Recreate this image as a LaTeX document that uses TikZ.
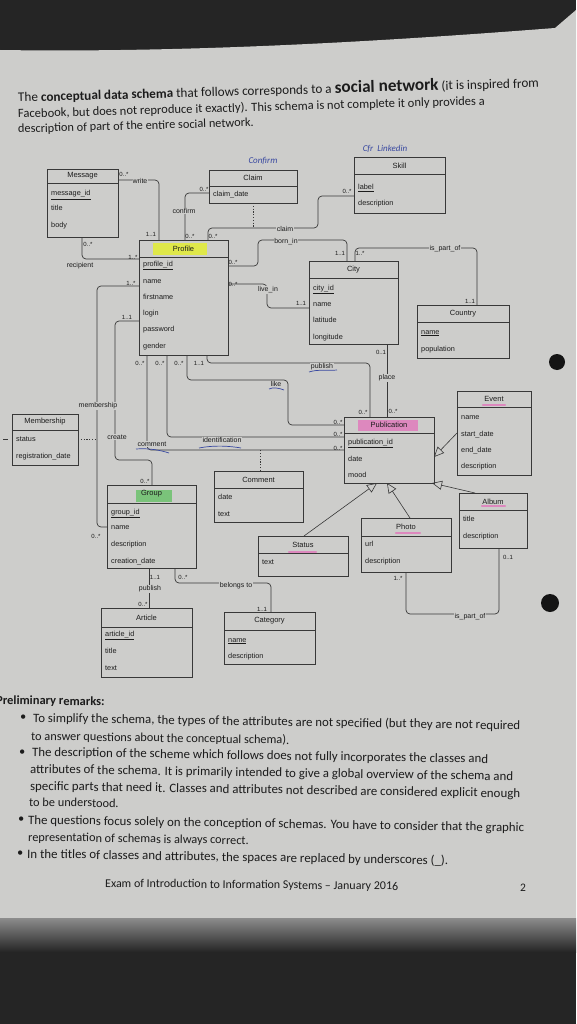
\documentclass[tikz,border=0pt]{standalone}
\usepackage{fontspec}
\usepackage{graphicx}
\setmainfont{Carlito}
\newfontfamily\diag{Liberation Sans}
\usetikzlibrary{arrows.meta}
\definecolor{page}{HTML}{CDCDCB}
\definecolor{bgdark}{HTML}{252525}
\definecolor{ink}{HTML}{383838}
\definecolor{txt}{HTML}{1C1C1C}
\definecolor{pen}{HTML}{3848A0}
\definecolor{hlpink}{HTML}{E07CBC}
\definecolor{hlyellow}{HTML}{E2EC3C}
\definecolor{hlgreen}{HTML}{72C272}
\tikzset{
 box/.style={draw=ink, line width=.6pt, inner sep=0pt, outer sep=0pt},
 ttl/.style={font=\diag\fontsize{7.5}{9}\selectfont, text=txt, inner sep=0pt},
 att/.style={font=\diag\fontsize{7.3}{9}\selectfont, text=txt, inner sep=0pt, anchor=west, text height=5.5pt, text depth=1.5pt},
 mult/.style={font=\diag\fontsize{6}{7}\selectfont, text=txt, inner sep=0pt},
 lab/.style={font=\diag\fontsize{7}{8}\selectfont, text=txt, inner sep=.6pt, fill=page},
 assoc/.style={draw=ink, line width=.7pt, rounded corners=4pt},
 dotl/.style={draw=ink, line width=.6pt, dash pattern=on 1.2pt off 1.6pt},
 gen/.style={draw=ink, line width=.6pt, -{Triangle[open,length=10pt,width=9pt]}},
 para/.style={text=txt, inner sep=0pt, anchor=base west},
 rem/.style={para, rotate=-0.9, font=\fontsize{12.3}{14}\selectfont},
 hand/.style={font=\itshape\fontsize{9}{10}\selectfont, text=pen, inner sep=0pt},
 penline/.style={draw=pen, line width=.7pt},
 pinkmark/.style={draw=hlpink, line width=2.2pt, opacity=.85, line cap=round},
}
\newcommand\umlclass[7]{%
 \node[box, anchor=north west, minimum width={(#4-#2)*1pt}, minimum height={(#6-#3)*1pt}] (#1) at (#2,#3) {};
 \draw[ink, line width=.6pt] (#2,#5) -- (#4,#5);
 \node[ttl] (#1-title) at ({(#2+#4)/2},{(#3+#5)/2}) {#7};
}
\newcommand\attr[4]{\node[att] (#1) at (#2,#3) {#4};}
\newcommand\fitline[2]{\resizebox{#1pt}{!}{\fontsize{12.3}{14}\selectfont #2}}
\begin{document}
\begin{tikzpicture}[x=1pt,y=-1pt]
\useasboundingbox (0,0) rectangle (576,1024);
% background
\fill[bgdark] (0,0) rectangle (576,1024);
\fill[page] (0,50) .. controls (200,53) and (400,40) .. (555,28) -- (576,10) -- (576,918) -- (0,918) -- cycle;
\shade[top color=black!45, bottom color=bgdark] (0,918) rectangle (576,952);
\fill[black!92] (557,362) circle (8pt);
\fill[black!92] (550,603) circle (9pt);

% top paragraph
\node[para, rotate=1.6] (p1) at (18,102) {\resizebox{521pt}{!}{\fontsize{12.3}{14}\selectfont The \textbf{conceptual data schema} that follows corresponds to a {\fontsize{16}{17}\selectfont\textbf{social network}} (it is inspired from}};
\node[para, rotate=1.6] (p2) at (18,118) {\fitline{467}{Facebook, but does not reproduce it exactly). This schema is not complete it only provides a}};
\node[para, rotate=1.6, font=\fontsize{12.3}{14}\selectfont] (p3) at (18,133) {description of part of the entire social network.};

% handwriting
\node[hand] (h1) at (263,161) {Confirm};
\node[hand] (h2) at (385,149) {Cfr\ \ Linkedin};

% highlights
\fill[hlyellow, opacity=.9] (153,243) rectangle (207,255);
\fill[hlgreen, opacity=.9] (136,490) rectangle (172,502);
\fill[hlpink, opacity=.85] (358,420) rectangle (418,431);
\draw[pinkmark] (483,405) -- (505,405);
\draw[pinkmark] (482,506) -- (505,506);
\draw[pinkmark] (396,533) -- (420,533);
\draw[pinkmark] (289,552) -- (316,552);

% classes
\umlclass{message}{47}{169}{118}{183}{237}{Message}
\umlclass{claim}{209}{170}{297}{186}{203}{Claim}
\umlclass{skill}{354}{157}{445}{174}{213}{Skill}
\umlclass{profile}{139}{240}{228}{257}{355}{Profile}
\umlclass{city}{309}{261}{398}{278}{344}{City}
\umlclass{country}{417}{305}{509}{322}{358}{Country}
\umlclass{membership}{12}{414}{78}{430}{465}{Membership}
\umlclass{group}{107}{485}{196}{503}{568}{Group}
\umlclass{comment}{214}{471}{303}{488}{522}{Comment}
\umlclass{publication}{344}{417}{434}{433}{483}{Publication}
\umlclass{event}{457}{391}{531}{407}{475}{Event}
\umlclass{album}{459}{493}{527}{510}{548}{Album}
\umlclass{photo}{361}{518}{451}{536}{572}{Photo}
\umlclass{status}{258}{536}{348}{553}{576}{Status}
\umlclass{article}{101}{608}{192}{627}{677}{Article}
\umlclass{category}{224}{612}{315}{630}{664}{Category}

% attributes
\attr{msg1}{51}{194}{\underline{message\_id}}
\attr{msg2}{51}{209}{title}
\attr{msg3}{51}{225}{body}
\attr{cl1}{213}{195}{claim\_date}
\attr{sk1}{358}{188}{\underline{label}}
\attr{sk2}{358}{204}{description}
\attr{pr1}{143}{264}{\underline{profile\_id}}
\attr{pr2}{143}{281}{name}
\attr{pr3}{143}{297}{firstname}
\attr{pr4}{143}{313}{login}
\attr{pr5}{143}{329}{password}
\attr{pr6}{143}{346}{gender}
\attr{ci1}{313}{288}{\underline{city\_id}}
\attr{ci2}{313}{304}{name}
\attr{ci3}{313}{320}{latitude}
\attr{ci4}{313}{337}{longitude}
\attr{co1}{421}{332}{\underline{name}}
\attr{co2}{421}{349}{population}
\attr{me1}{16}{439}{status}
\attr{me2}{16}{456}{registration\_date}
\attr{gr1}{111}{512}{\underline{group\_id}}
\attr{gr2}{111}{527}{name}
\attr{gr3}{111}{544}{description}
\attr{gr4}{111}{561}{creation\_date}
\attr{cm1}{218}{497}{date}
\attr{cm2}{218}{514}{text}
\attr{pu1}{348}{442}{\underline{publication\_id}}
\attr{pu2}{348}{459}{date}
\attr{pu3}{348}{475}{mood}
\attr{ev1}{461}{417}{name}
\attr{ev2}{461}{434}{start\_date}
\attr{ev3}{461}{450}{end\_date}
\attr{ev4}{461}{466}{description}
\attr{al1}{463}{519}{title}
\attr{al2}{463}{536}{description}
\attr{ph1}{365}{544}{url}
\attr{ph2}{365}{561}{description}
\attr{st1}{262}{562}{text}
\attr{ar1}{105}{634}{\underline{article\_id}}
\attr{ar2}{105}{651}{title}
\attr{ar3}{105}{668}{text}
\attr{ca1}{228}{640}{\underline{name}}
\attr{ca2}{228}{656}{description}

% associations
\draw[assoc] (message.east |- 0,180) -| (profile.north -| 159,0);
\draw[assoc] (claim.west |- 0,193) -| (profile.north -| 185,0);
\draw[assoc] (skill.west |- 0,196) -| (318,228) -| (profile.north -| 208,0);
\coordinate (claimlink) at (253,228);
\draw[dotl] (claim.south -| 253,0) -- (claimlink);
\draw[assoc] (message.south -| 82,0) |- (profile.west |- 0,259);
\draw[assoc] (profile.east |- 0,266) -| (258,240) -| (city.north -| 347,0);
\draw[assoc] (profile.east |- 0,284) -| (267,308) -- (city.west |- 0,308);
\draw[assoc] (city.north -| 355,0) |- (477,248) -- (country.north -| 477,0);
\draw[assoc] (city.south -| 387,0) -- (publication.north -| 387,0);
\draw[assoc] (profile.south -| 207,0) |- (370,363) -- (publication.north -| 370,0);
\draw[assoc] (profile.south -| 187,0) |- (288,380) |- (publication.west |- 0,425);
\draw[assoc] (profile.south -| 167,0) |- (publication.west |- 0,437);
\draw[assoc] (profile.south -| 147,0) |- (publication.west |- 0,450);
\coordinate (commentlink) at (260,450);
\draw[dotl] (comment.north -| 260,0) -- (commentlink);
\draw[assoc] (profile.west |- 0,286) -| (97,527) -- (group.west |- 0,527);
\coordinate (memberlink) at (97,439);
\draw[dotl] (membership.east |- 0,439) -- (memberlink);
\draw[ink, line width=.6pt] (3,439) -- (8,439);
\draw[assoc] (profile.west |- 0,321) -| (115,460) -| (group.north -| 152,0);
\draw[assoc] (group.south -| 149,0) -- (article.north -| 149,0);
\draw[assoc] (group.south -| 175,0) |- (271,583) -- (category.north -| 271,0);
\draw[assoc] (photo.south -| 406,0) |- (499,614) -- (album.south -| 499,0);

% generalizations
\draw[gen] (event.west |- 0,433) -- (publication.east |- 0,457);
\draw[gen] (status.north -| 304,0) -- (publication.south -| 377,0);
\draw[gen] (photo.north -| 410,0) -- (publication.south -| 387,0);
\draw[gen] (album.north -| 475,0) -- (publication.south -| 432,0);

% association labels
\node[lab] (lwrite) at (140,181) {write};
\node[lab] (lconfirm) at (184,211) {confirm};
\node[lab] (lclaim) at (285,229) {claim};
\node[lab, fill=none] (lrecip) at (80,266) {recipient};
\node[lab] (lborn) at (286,242) {born\_in};
\node[lab] (llive) at (268,290) {live\_in};
\node[lab] (lpart1) at (445,249) {is\_part\_of};
\node[lab] (lplace) at (387,378) {place};
\node[lab] (lpub1) at (322,367) {publish};
\node[lab] (llike) at (276,384) {like};
\node[lab] (lident) at (222,440) {identification};
\node[lab] (lcomm) at (152,444) {comment};
\node[lab] (lmember) at (98,406) {membership};
\node[lab] (lcreate) at (117,437) {create};
\node[lab] (lpub2) at (150,589) {publish};
\node[lab] (lbelong) at (236,586) {belongs to};
\node[lab] (lpart2) at (470,617) {is\_part\_of};

% pen underlines
\draw[penline] (309,372) .. controls (318,369) and (328,371) .. (337,370);
\draw[penline] (269,389) .. controls (273,387) and (279,388) .. (284,390);
\draw[penline] (136,449) .. controls (148,448) and (160,450) .. (169,453);
\draw[penline] (199,448) .. controls (214,445) and (230,446) .. (241,448);

% multiplicities
\node[mult] (m1) at (124,174) {0..*};
\node[mult] (m2) at (151,234) {1..1};
\node[mult] (m3) at (204,189) {0..*};
\node[mult] (m4) at (190,236) {0..*};
\node[mult] (m5) at (347,191) {0..*};
\node[mult] (m6) at (213,236) {0..*};
\node[mult] (m7) at (88,244) {0..*};
\node[mult] (m8) at (133,257) {1..*};
\node[mult] (m9) at (131,283) {1..*};
\node[mult] (m10) at (96,536) {0..*};
\node[mult] (m11) at (127,317) {1..1};
\node[mult] (m12) at (145,481) {0..*};
\node[mult] (m13) at (233,262) {0..*};
\node[mult] (m14) at (340,253) {1..1};
\node[mult] (m15) at (233,284) {0..*};
\node[mult] (m16) at (301,303) {1..1};
\node[mult] (m17) at (360,253) {1..*};
\node[mult] (m18) at (470,301) {1..1};
\node[mult] (m19) at (381,352) {0..1};
\node[mult] (m20) at (393,411) {0..*};
\node[mult] (m21) at (199,363) {1..1};
\node[mult] (m22) at (363,412) {0..*};
\node[mult] (m23) at (179,363) {0..*};
\node[mult] (m24) at (338,422) {0..*};
\node[mult] (m25) at (160,363) {0..*};
\node[mult] (m26) at (338,434) {0..*};
\node[mult] (m27) at (140,363) {0..*};
\node[mult] (m28) at (338,448) {0..*};
\node[mult] (m29) at (155,577) {1..1};
\node[mult] (m30) at (143,604) {0..*};
\node[mult] (m31) at (183,577) {0..*};
\node[mult] (m32) at (262,609) {1..1};
\node[mult] (m33) at (398,578) {1..*};
\node[mult] (m34) at (508,557) {0..1};

% remarks
\node[para, rotate=-0.9, font=\bfseries\fontsize{12.5}{14}\selectfont] (r0) at (-4,704) {Preliminary remarks:};
\node[rem] (b1) at (20,720) {•};
\node[rem] (r1) at (33,722) {\fitline{487}{To simplify the schema, the types of the attributes are not specified (but they are not required}};
\node[rem] (r2) at (31,740) {to answer questions about the conceptual schema).};
\node[rem] (b2) at (19,755) {•};
\node[rem] (r3) at (32,756) {\fitline{456}{The description of the scheme which follows does not fully incorporates the classes and}};
\node[rem] (r4) at (30,773) {\fitline{483}{attributes of the schema. It is primarily intended to give a global overview of the schema and}};
\node[rem] (r5) at (30,790) {\fitline{490}{specific parts that need it. Classes and attributes not described are considered explicit enough}};
\node[rem] (r6) at (29,806) {to be understood.};
\node[rem] (b3) at (18,822) {•};
\node[rem] (r7) at (28,824) {\fitline{496}{The questions focus solely on the conception of schemas. You have to consider that the graphic}};
\node[rem] (r8) at (28,841) {representation of schemas is always correct.};
\node[rem] (b4) at (17,856) {•};
\node[rem] (r9) at (27,858) {\fitline{421}{In the titles of classes and attributes, the spaces are replaced by underscores (\_).}};
\node[para, rotate=-0.6] (r10) at (105,887) {\resizebox{293pt}{!}{\fontsize{11.5}{13}\selectfont Exam of Introduction to Information Systems – January 2016}};
\node[para, font=\fontsize{11.5}{13}\selectfont] (pg) at (520,891) {2};
\end{tikzpicture}
\end{document}
